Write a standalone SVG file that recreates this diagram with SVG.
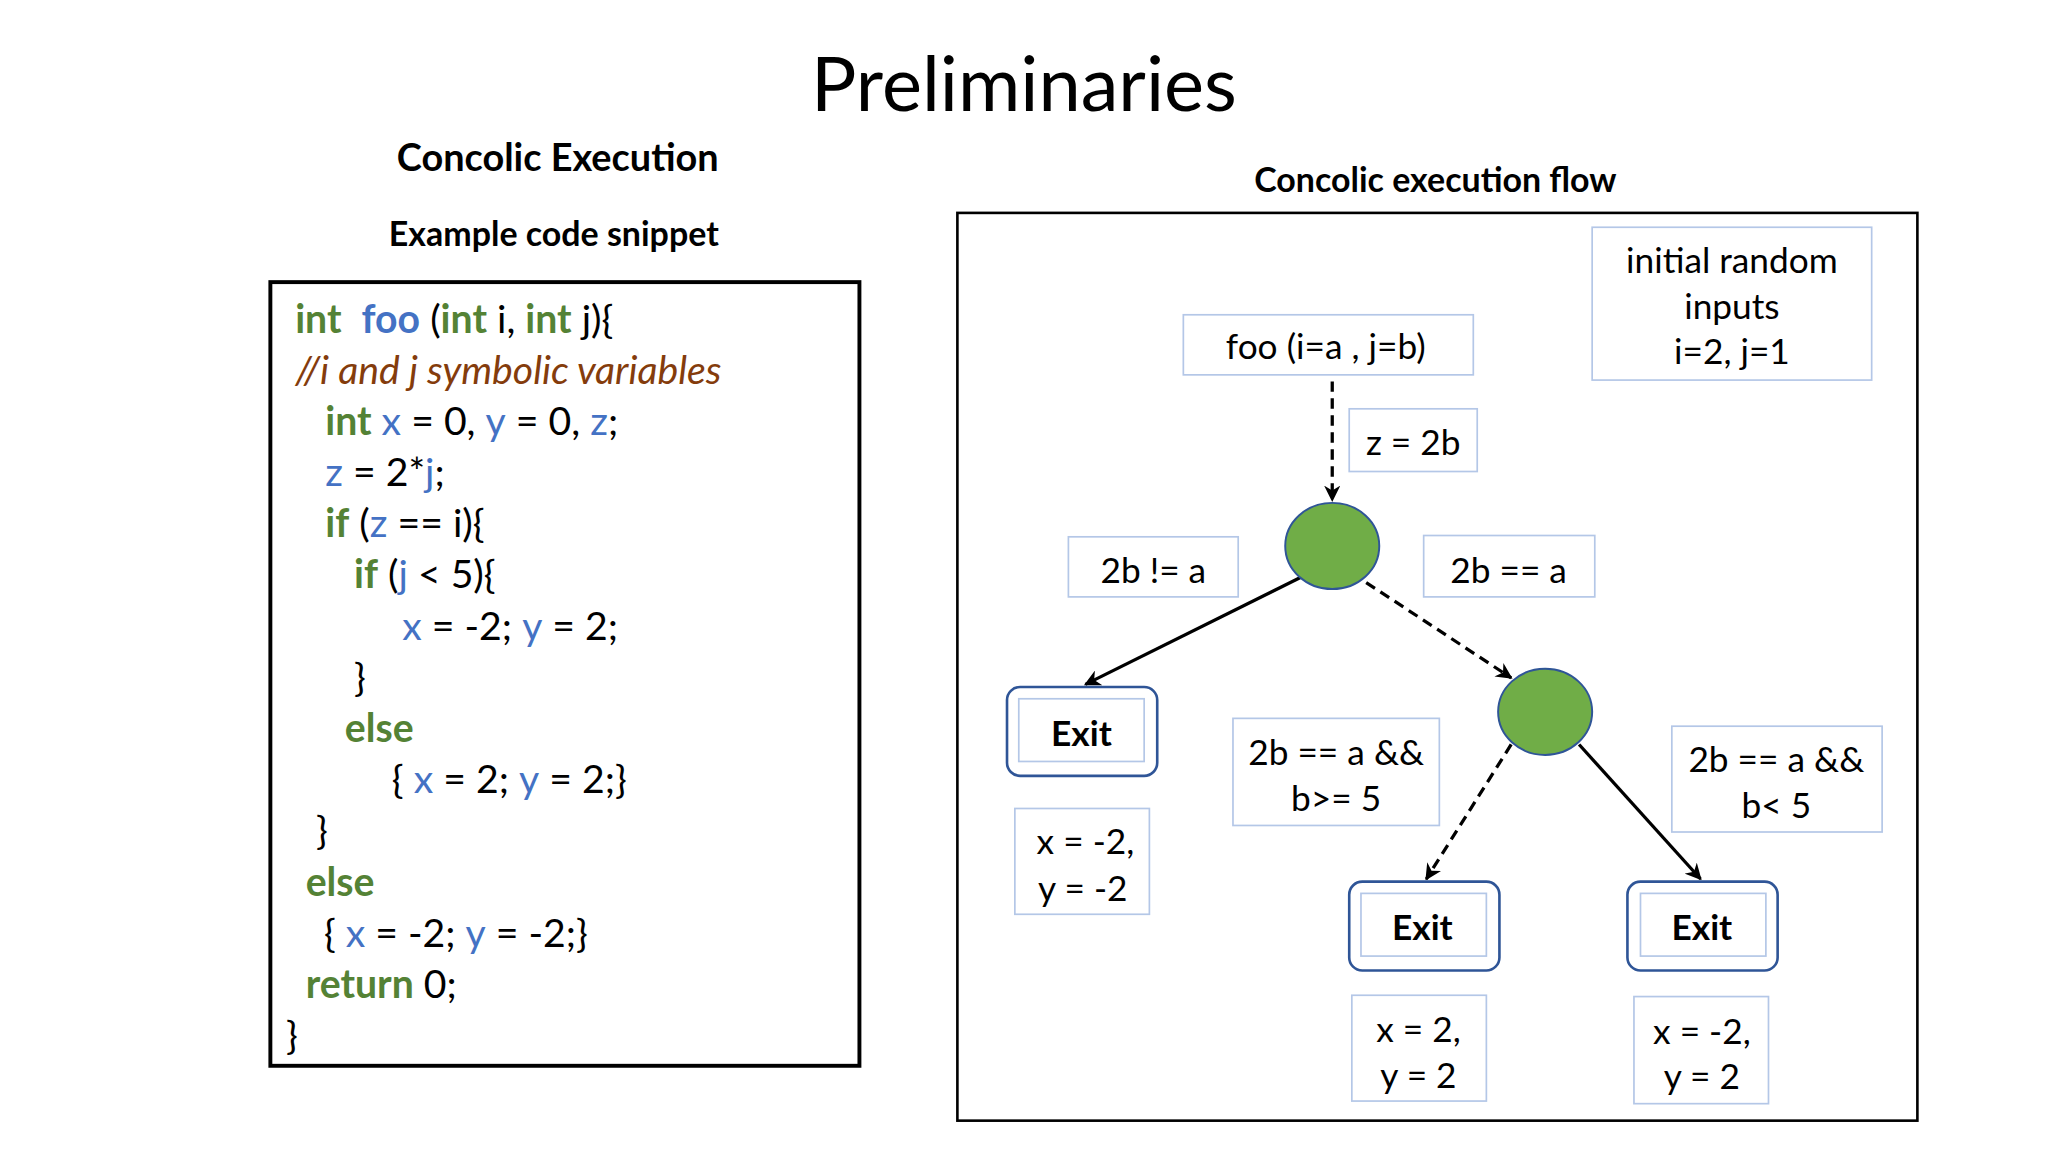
<svg xmlns="http://www.w3.org/2000/svg" width="2048" height="1152" viewBox="0 0 2048 1152">
<defs>
<style>
text{font-family:Lato,"Open Sans","Liberation Sans",sans-serif;fill:#000}
.h{font-weight:bold}
.c{font-size:30px}
.k{fill:#548235;font-weight:bold}
.b{fill:#4472C4}
.cm{fill:#843C0C;font-style:italic}
.lb{fill:#fff;stroke:#B4C7E7;stroke-width:1.3}
.t{font-size:27px;text-anchor:middle}
.node{fill:#70AD47;stroke:#2F5597;stroke-width:1.5}
.exo{fill:#fff;stroke:#2F5597;stroke-width:2}
.exi{fill:#fff;stroke:#B4C7E7;stroke-width:1.3}
.ex{font-size:27px;font-weight:bold;text-anchor:middle}
.e{stroke:#000;stroke-width:2.5;fill:none;marker-end:url(#ah)}
.d{stroke-dasharray:8 5}
</style>
<marker id="ah" viewBox="0 0 10 10" refX="9" refY="5" markerWidth="5" markerHeight="5" orient="auto"><path d="M0,0 L10,5 L0,10 L3,5 z" fill="#000"/></marker>
</defs>
<rect width="2048" height="1152" fill="#fff"/>
<g transform="scale(1.30612)">
<text x="784" y="85" class="h" style="font-size:58px;font-weight:normal" text-anchor="middle">Preliminaries</text>
<text x="427" y="131" class="h" style="font-size:29px" text-anchor="middle">Concolic Execution</text>
<text x="424" y="188" class="h" style="font-size:26px" text-anchor="middle">Example code snippet</text>
<g id="code">
<rect x="207" y="216" width="451" height="600" fill="#fff" stroke="#000" stroke-width="3"/>
<text class="c" x="226" y="255" xml:space="preserve"><tspan class="k">int</tspan>  <tspan class="b" font-weight="bold">foo</tspan> (<tspan class="k">int</tspan> i, <tspan class="k">int</tspan> j){</text>
<text class="c cm" x="226" y="294">//i and j symbolic variables</text>
<text class="c" x="249" y="333"><tspan class="k">int</tspan> <tspan class="b">x</tspan> = 0, <tspan class="b">y</tspan> = 0, <tspan class="b">z</tspan>;</text>
<text class="c" x="249" y="372"><tspan class="b">z</tspan> = 2*<tspan class="b">j</tspan>;</text>
<text class="c" x="249" y="411"><tspan class="k">if</tspan> (<tspan class="b">z</tspan> == i){</text>
<text class="c" x="271" y="450"><tspan class="k">if</tspan> (<tspan class="b">j</tspan> &lt; 5){</text>
<text class="c" x="308" y="490"><tspan class="b">x</tspan> = -2; <tspan class="b">y</tspan> = 2;</text>
<text class="c" x="271" y="529">}</text>
<text class="c k" x="264" y="568">else</text>
<text class="c" x="300" y="607">{ <tspan class="b">x</tspan> = 2; <tspan class="b">y</tspan> = 2;}</text>
<text class="c" x="242" y="646">}</text>
<text class="c k" x="234" y="686">else</text>
<text class="c" x="248" y="725">{ <tspan class="b">x</tspan> = -2; <tspan class="b">y</tspan> = -2;}</text>
<text class="c" x="234" y="764"><tspan class="k">return</tspan> 0;</text>
<text class="c" x="219" y="803">}</text>
</g>
<text x="1099" y="147" class="h" style="font-size:26px" text-anchor="middle">Concolic execution flow</text>
<rect x="733" y="163" width="735" height="695" fill="none" stroke="#000" stroke-width="2"/>
<g id="init"><rect class="lb" x="1219" y="174" width="214" height="117"/>
<text class="t" x="1326" y="209">initial random</text><text class="t" x="1326" y="244">inputs</text><text class="t" x="1326" y="279">i=2, j=1</text></g>
<g id="foo"><rect class="lb" x="906" y="241" width="222" height="46"/><text class="t" x="1015" y="275">foo (i=a , j=b)</text></g>
<g id="z2b"><rect class="lb" x="1033" y="313" width="98" height="48"/><text class="t" x="1082" y="348">z = 2b</text></g>
<g id="ne"><rect class="lb" x="818" y="411" width="130" height="46"/><text class="t" x="883" y="446">2b != a</text></g>
<g id="eq"><rect class="lb" x="1090" y="410" width="131" height="47"/><text class="t" x="1155" y="446">2b == a</text></g>
<g id="ge5"><rect class="lb" x="944" y="550" width="158" height="82"/><text class="t" x="1023" y="586">2b == a &amp;&amp;</text><text class="t" x="1023" y="621">b&gt;= 5</text></g>
<g id="lt5"><rect class="lb" x="1280" y="556" width="161" height="81"/><text class="t" x="1360" y="591">2b == a &amp;&amp;</text><text class="t" x="1360" y="626">b&lt; 5</text></g>
<g id="r1"><rect class="lb" x="777" y="619" width="103" height="81"/><text class="t" x="831" y="654">x = -2,</text><text class="t" x="829" y="690">y = -2</text></g>
<g id="r2"><rect class="lb" x="1035" y="762" width="103" height="81"/><text class="t" x="1086" y="798">x = 2,</text><text class="t" x="1086" y="833">y = 2</text></g>
<g id="r3"><rect class="lb" x="1251" y="763" width="103" height="82"/><text class="t" x="1303" y="799">x = -2,</text><text class="t" x="1303" y="834">y = 2</text></g>
<g id="connectors">
<line class="e d" x1="1020" y1="292" x2="1020" y2="383"/>
<line class="e" x1="996" y1="442" x2="831" y2="524"/>
<line class="e d" x1="1046" y1="446" x2="1157" y2="519"/>
<line class="e d" x1="1157" y1="570" x2="1092" y2="673"/>
<line class="e" x1="1209" y1="570" x2="1302" y2="673"/>
</g>
<g id="n1"><ellipse class="node" cx="1020" cy="418" rx="36" ry="33"/></g>
<g id="n2"><ellipse class="node" cx="1183" cy="545" rx="36" ry="33"/></g>
<g id="exit1"><rect class="exo" x="771" y="526" width="115" height="68" rx="10"/><rect class="exi" x="780" y="535" width="96" height="48"/><text class="ex" x="828" y="571">Exit</text></g>
<g id="exit2"><rect class="exo" x="1033" y="675" width="115" height="68" rx="10"/><rect class="exi" x="1042" y="684" width="96" height="48"/><text class="ex" x="1089" y="720">Exit</text></g>
<g id="exit3"><rect class="exo" x="1246" y="675" width="115" height="68" rx="10"/><rect class="exi" x="1256" y="684" width="96" height="48"/><text class="ex" x="1303" y="720">Exit</text></g>
</g>
</svg>
